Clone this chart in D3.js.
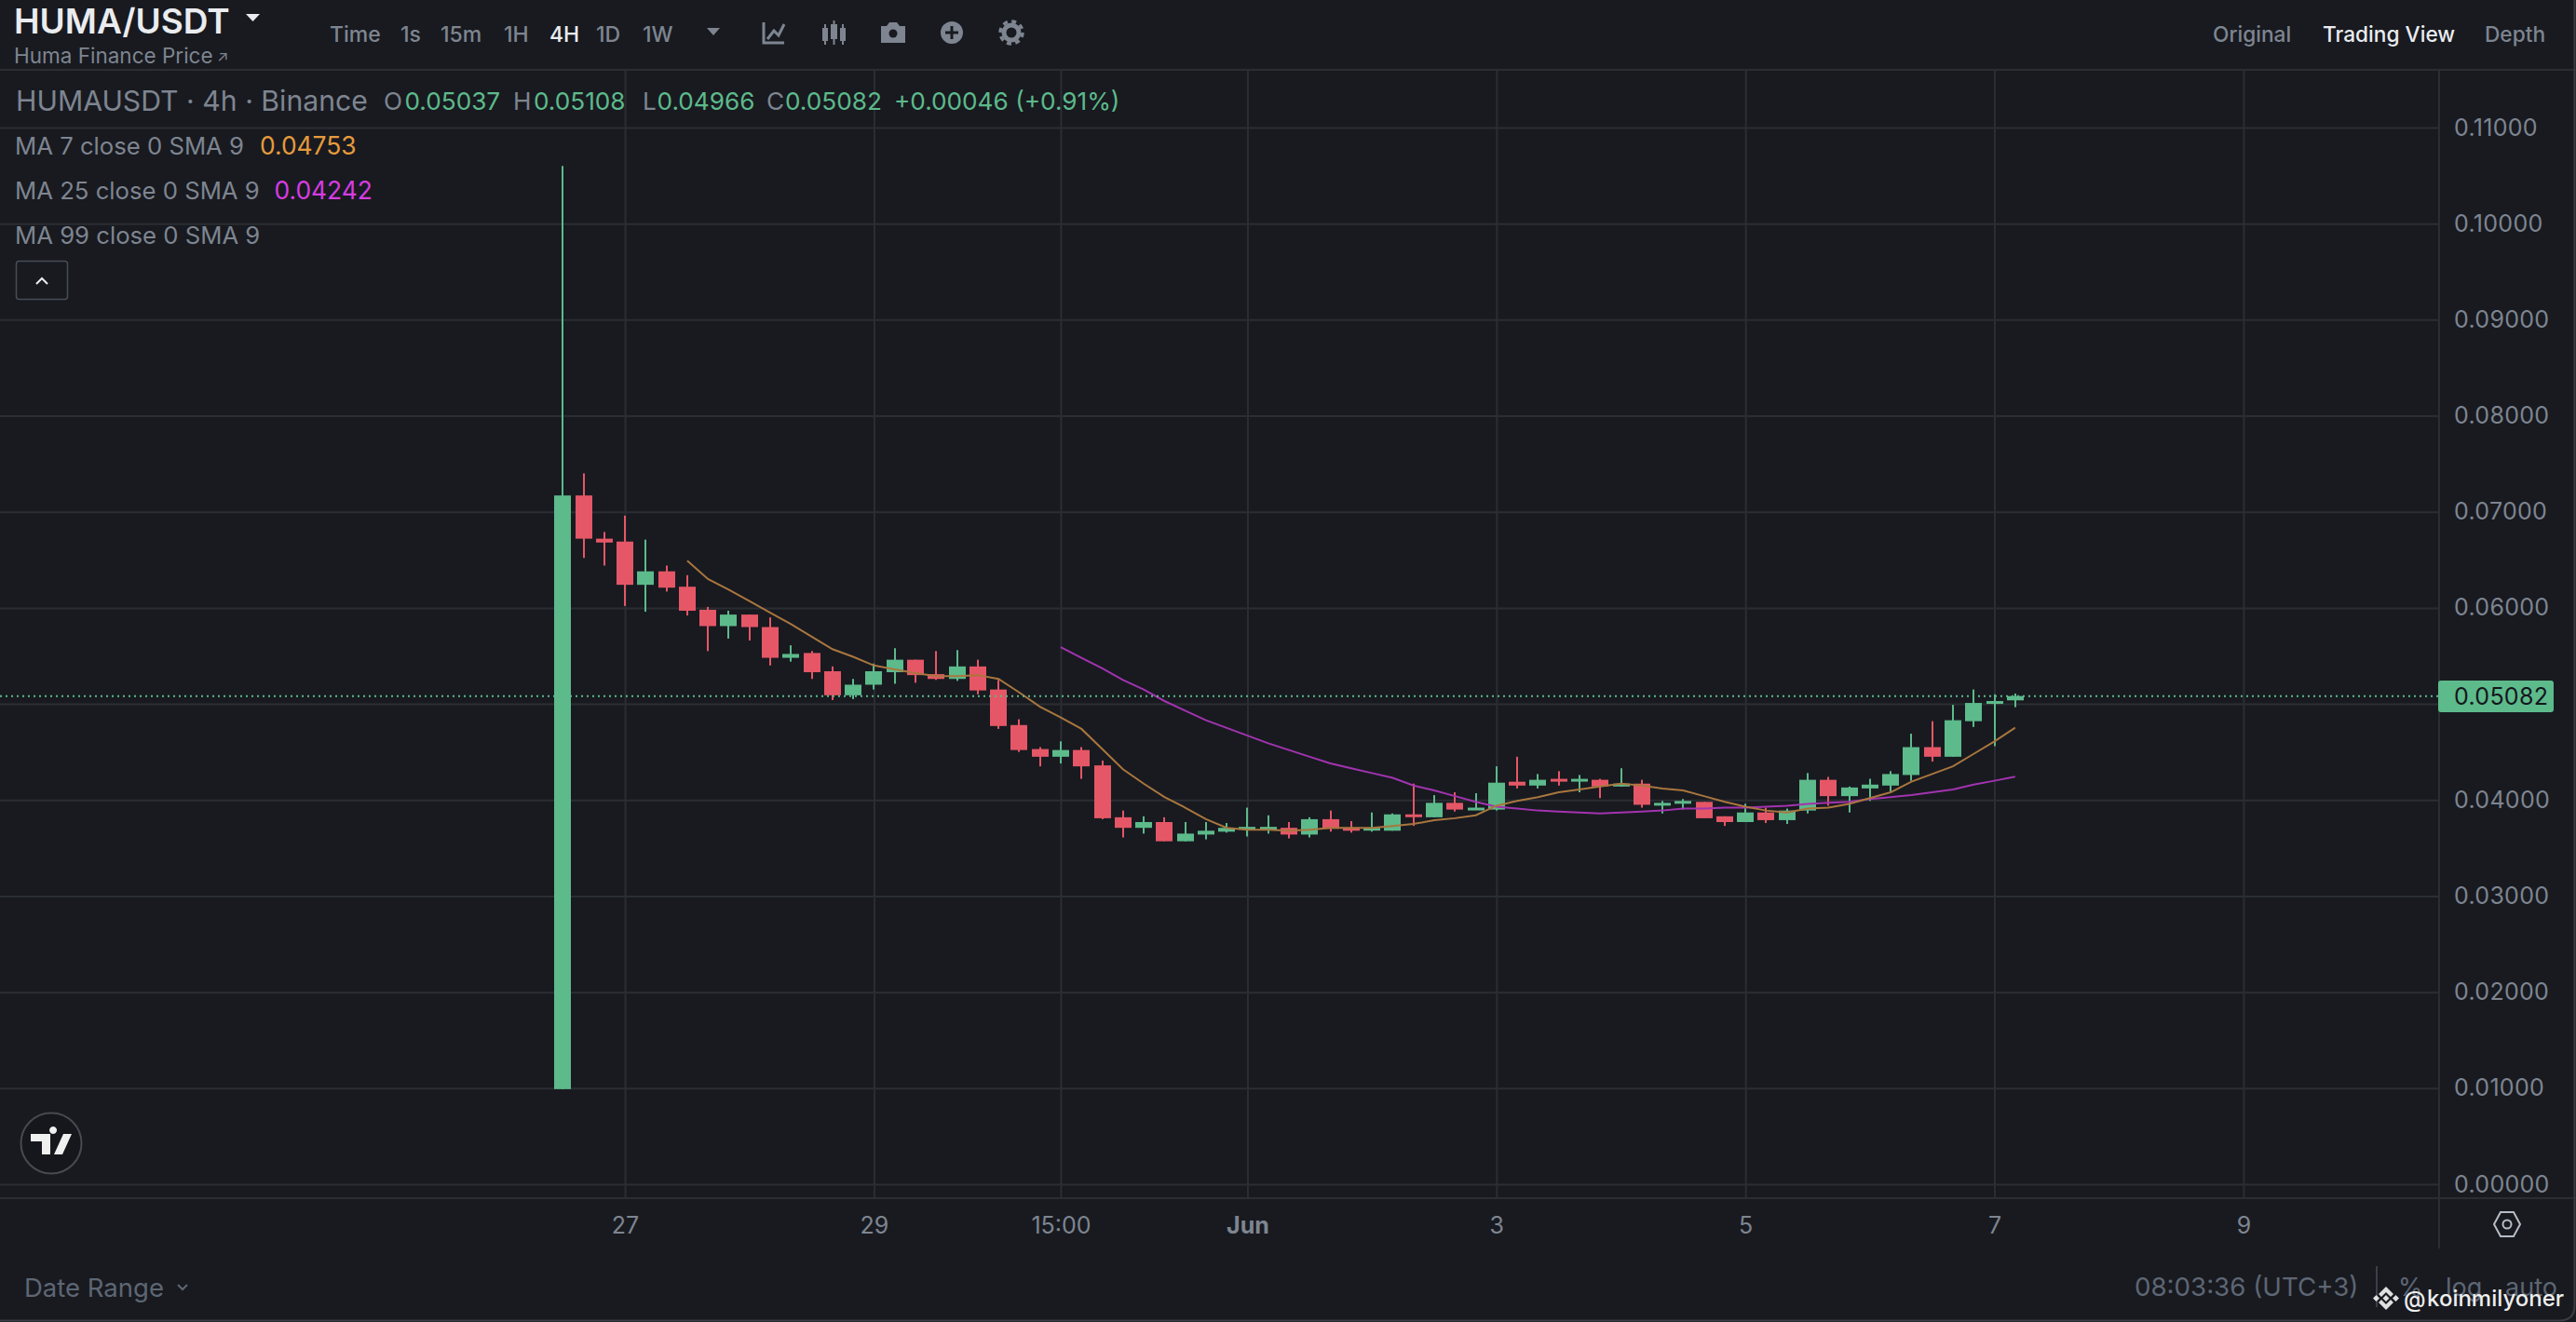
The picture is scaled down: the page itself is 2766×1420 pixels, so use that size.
<!DOCTYPE html>
<html><head><meta charset="utf-8">
<script src="https://cdn.jsdelivr.net/npm/d3@7"></script>
<style>
html,body{margin:0;padding:0;background:#181a20;overflow:hidden}
svg{display:block}
text{font-family:Inter,"Noto Sans",sans-serif}
</style></head><body>
<svg id="c" width="2766" height="1420"></svg>
<script>
const opens=[0.0099,0.0717,0.0672,0.0669,0.0624,0.0638,0.0622,0.0598,0.0581,0.0593,0.0580,0.0548,0.0553,0.0534,0.0509,0.0520,0.0533,0.0546,0.0531,0.0526,0.0539,0.0515,0.0478,0.0453,0.0445,0.0452,0.0436,0.0382,0.0371,0.0377,0.0357,0.0364,0.0367,0.0370,0.0370,0.0371,0.0364,0.0380,0.0371,0.0369,0.0368,0.0385,0.0382,0.0397,0.0390,0.0390,0.0419,0.0415,0.0422,0.0420,0.0421,0.0414,0.0417,0.0395,0.0397,0.0398,0.0383,0.0377,0.0387,0.0379,0.0389,0.0421,0.0404,0.0412,0.0415,0.0426,0.0455,0.0445,0.0482,0.0500,0.05037];
const highs=[0.1060,0.0740,0.0679,0.0696,0.0671,0.0644,0.0634,0.0601,0.0597,0.0593,0.0590,0.0561,0.0555,0.0539,0.0526,0.0542,0.0558,0.0546,0.0555,0.0556,0.0546,0.0525,0.0484,0.0455,0.0461,0.0455,0.0441,0.0389,0.0383,0.0382,0.0377,0.0377,0.0376,0.0392,0.0384,0.0377,0.0382,0.0389,0.0378,0.0387,0.0386,0.0417,0.0405,0.0408,0.0407,0.0435,0.0445,0.0427,0.0430,0.0426,0.0422,0.0433,0.0421,0.0399,0.0401,0.0398,0.0383,0.0396,0.0392,0.0391,0.0428,0.0424,0.0414,0.0422,0.0430,0.0469,0.0482,0.0499,0.0515,0.0510,0.05108];
const lows=[0.0099,0.0652,0.0644,0.0602,0.0596,0.0617,0.0592,0.0555,0.0568,0.0566,0.0540,0.0544,0.0526,0.0504,0.0505,0.0515,0.0521,0.0522,0.0525,0.0524,0.0510,0.0474,0.0450,0.0435,0.0438,0.0422,0.0380,0.0361,0.0365,0.0357,0.0357,0.0359,0.0366,0.0362,0.0365,0.0360,0.0361,0.0367,0.0366,0.0367,0.0368,0.0373,0.0382,0.0388,0.0390,0.0389,0.0412,0.0412,0.0415,0.0408,0.0402,0.0414,0.0392,0.0386,0.0390,0.0381,0.0373,0.0377,0.0376,0.0375,0.0386,0.0394,0.0387,0.0399,0.0409,0.0420,0.0440,0.0445,0.0476,0.0456,0.04966];
const closes=[0.0717,0.0672,0.0668,0.0624,0.0638,0.0621,0.0597,0.0581,0.0593,0.0580,0.0548,0.0552,0.0533,0.0509,0.0520,0.0534,0.0546,0.0530,0.0526,0.0539,0.0514,0.0477,0.0452,0.0445,0.0452,0.0435,0.0381,0.0371,0.0377,0.0357,0.0365,0.0368,0.0371,0.0372,0.0372,0.0364,0.0380,0.0370,0.0368,0.0371,0.0385,0.0383,0.0397,0.0390,0.0392,0.0418,0.0415,0.0421,0.0420,0.0422,0.0414,0.0417,0.0395,0.0397,0.0399,0.0381,0.0377,0.0387,0.0379,0.0389,0.0421,0.0404,0.0413,0.0416,0.0427,0.0455,0.0445,0.0483,0.0501,0.0503,0.05082];
const ma7Start=6;
const ma7=[0.0649,0.0630,0.0619,0.0607,0.0595,0.0583,0.0570,0.0557,0.0549,0.0540,0.0536,0.0532,0.0529,0.0529,0.0530,0.0526,0.0512,0.0497,0.0486,0.0474,0.0453,0.0432,0.0417,0.0403,0.0392,0.0380,0.0371,0.0369,0.0369,0.0368,0.0369,0.0371,0.0371,0.0371,0.0373,0.0375,0.0379,0.0381,0.0384,0.0394,0.0399,0.0403,0.0408,0.0411,0.0414,0.0417,0.0415,0.0412,0.0410,0.0404,0.0398,0.0393,0.0389,0.0387,0.0391,0.0392,0.0396,0.0402,0.0408,0.0419,0.0427,0.0435,0.0448,0.0461,0.04753];
const ma25Start=24;
const ma25=[0.0559,0.0548,0.0537,0.0525,0.0515,0.0503,0.0493,0.0483,0.0475,0.0467,0.0459,0.0452,0.0445,0.0438,0.0433,0.0428,0.0423,0.0415,0.0410,0.0404,0.0398,0.0393,0.0391,0.0389,0.0388,0.0387,0.0386,0.0387,0.0388,0.0389,0.0391,0.0391,0.0392,0.0392,0.0393,0.0394,0.0396,0.0397,0.0398,0.0401,0.0403,0.0405,0.0408,0.0411,0.0416,0.0420,0.04242];
const yTicks=[0,0.01,0.02,0.03,0.04,0.05,0.06,0.07,0.08,0.09,0.10,0.11];
const xTickIdx=[3,15,24,33,45,57,69,81];
const xTickLabels=["27","29","15:00","Jun","3","5","7","9"];
const lastPrice=0.05082;

const BG="#181a20",GRID="#2a2e33",UP="#5dba8b",DOWN="#e55766",MUTED="#7e8590",DIM="#5e6673";
const svg=d3.select("#c");
const paneR=2619,paneT=75,paneB=1287;
const x=d3.scaleLinear().domain([-27.12,90.43]).range([0,paneR]);
const y=d3.scaleLinear().domain([0,0.11]).range([1272,137]);

svg.append("rect").attr("width",2766).attr("height",1420).attr("fill",BG);

// grid
const gy=svg.append("g").attr("transform",`translate(${paneR},0)`)
 .call(d3.axisLeft(y).tickValues(yTicks).tickSize(paneR).tickFormat(""));
const gx=svg.append("g").attr("transform",`translate(0,${paneB})`)
 .call(d3.axisBottom(x).tickValues(xTickIdx).tickSize(paneT-paneB).tickFormat(""));
[gy,gx].forEach(g=>{g.select(".domain").remove();g.selectAll("line").attr("stroke",GRID).attr("stroke-width",2);});

// frame lines
function hl(x1,y1,x2,y2,c=GRID,w=2){svg.append("line").attr("x1",x1).attr("y1",y1).attr("x2",x2).attr("y2",y2).attr("stroke",c).attr("stroke-width",w);}
hl(0,75,2766,75);
hl(0,paneB,2766,paneB);
hl(paneR,75,paneR,1341);

// candles
const candles=opens.map((o,i)=>({i,o,h:highs[i],l:lows[i],c:closes[i]}));
const cg=svg.append("g");
const colr=d=>d.c>=d.o?UP:DOWN;
cg.selectAll("rect.w").data(candles).join("rect").attr("class","w")
 .attr("x",d=>Math.round(x(d.i))-1).attr("width",2)
 .attr("y",d=>y(d.h)).attr("height",d=>y(d.l)-y(d.h)).attr("fill",colr);
cg.selectAll("rect.b").data(candles).join("rect").attr("class","b")
 .attr("x",d=>Math.round(x(d.i))-9).attr("width",18)
 .attr("y",d=>y(Math.max(d.o,d.c))).attr("height",d=>Math.max(3,y(Math.min(d.o,d.c))-y(Math.max(d.o,d.c)))).attr("fill",colr);

// moving averages
const line=d3.line().x(d=>x(d[0])).y(d=>y(d[1]));
svg.append("path").attr("d",line(ma25.map((v,k)=>[ma25Start+k,v]))).attr("fill","none").attr("stroke","#a333b0").attr("stroke-width",2);
svg.append("path").attr("d",line(ma7.map((v,k)=>[ma7Start+k,v]))).attr("fill","none").attr("stroke","#a9763e").attr("stroke-width",2);

// last price
svg.append("line").attr("x1",0).attr("x2",paneR).attr("y1",y(lastPrice)).attr("y2",y(lastPrice))
 .attr("stroke",UP).attr("stroke-width",2).attr("stroke-dasharray","2 4");

// axes
const ay=svg.append("g").attr("transform",`translate(${paneR},0)`)
 .call(d3.axisRight(y).tickValues(yTicks).tickSize(0).tickPadding(16).tickFormat(d3.format(".5f")));
ay.select(".domain").remove();
ay.selectAll("text").attr("fill",MUTED).attr("font-size",25).attr("letter-spacing",0.3).attr("font-family","Inter");
const ax=svg.append("g").attr("transform",`translate(0,${paneB})`)
 .call(d3.axisBottom(x).tickValues(xTickIdx).tickSize(0).tickPadding(0).tickFormat((d,i)=>xTickLabels[i]));
ax.select(".domain").remove();
ax.selectAll("text").attr("fill",MUTED).attr("font-size",25).attr("dy",null).attr("y",38).attr("font-family","Inter")
 .attr("font-weight",d=>d===33?700:400);

function txt(s,px,py,size,fill,weight=400){
  return svg.append("text").attr("x",px).attr("y",py).attr("font-size",size).attr("fill",fill).attr("font-weight",weight).text(s);
}

// price tag
svg.append("rect").attr("x",2618).attr("y",731).attr("width",124).attr("height",34).attr("rx",3).attr("fill",UP);
txt("0.05082",2635,757,25,"#14161b",400).attr("letter-spacing",0.3);

// header
txt("HUMA/USDT",15,36,37,"#eaecef",600);
txt("Huma Finance Price",15,68,22.5,MUTED);
txt("↗",233,66,16,MUTED);
svg.append("path").attr("d","M264 15h15l-7.5 8z").attr("fill","#eaecef");
[["Time",354,MUTED],["1s",430,MUTED],["15m",473,MUTED],["1H",541,MUTED],["4H",590,"#eaecef"],["1D",640,MUTED],["1W",690,MUTED]]
 .forEach(d=>txt(d[0],d[1],45,23,d[2],500));
svg.append("path").attr("d","M759 30h14l-7 8z").attr("fill",MUTED);
// toolbar icons
const ic=svg.append("g").attr("fill",MUTED);
ic.append("path").attr("d","M820 24v22h22M824 42l7-9 5 5 6-12").attr("fill","none").attr("stroke",MUTED).attr("stroke-width",3);
ic.append("rect").attr("x",883).attr("y",30).attr("width",6).attr("height",14);ic.append("rect").attr("x",885).attr("y",26).attr("width",2).attr("height",22);
ic.append("rect").attr("x",892).attr("y",26).attr("width",7).attr("height",16);ic.append("rect").attr("x",894.5).attr("y",22).attr("width",2).attr("height",26);
ic.append("rect").attr("x",902).attr("y",30).attr("width",6).attr("height",14);ic.append("rect").attr("x",904).attr("y",26).attr("width",2).attr("height",22);
ic.append("path").attr("d","M946 28h6l3-4h8l3 4h6v18h-26z");
ic.append("circle").attr("cx",959).attr("cy",36).attr("r",4.5).attr("fill",BG);
ic.append("circle").attr("cx",1022).attr("cy",35).attr("r",12);
ic.append("path").attr("d","M1022 28v14M1015 35h14").attr("stroke",BG).attr("stroke-width",3);
ic.append("circle").attr("cx",1086).attr("cy",35).attr("r",8).attr("fill","none").attr("stroke",MUTED).attr("stroke-width",5);
ic.append("circle").attr("cx",1086).attr("cy",35).attr("r",12).attr("fill","none").attr("stroke",MUTED).attr("stroke-width",3.5).attr("stroke-dasharray","5 4.4");
[["Original",2376,MUTED],["Trading View",2494,"#eaecef"],["Depth",2668,MUTED]].forEach(d=>txt(d[0],d[1],45,22.7,d[2],500));

// legend
txt("HUMAUSDT · 4h · Binance",17,119,30.2,MUTED);
[["O",412,MUTED],["0.05037",434.5,UP],["H",551,MUTED],["0.05108",573,UP],["L",690,MUTED],["0.04966",705.6,UP],["C",823,MUTED],["0.05082",843,UP],["+0.00046 (+0.91%)",960,UP]]
 .forEach(d=>txt(d[0],d[1],118,26.2,d[2]));
txt("MA 7 close 0 SMA 9",16,166,25.7,MUTED);txt("0.04753",279,166,26.4,"#e69a3c");
txt("MA 25 close 0 SMA 9",16,214,25.7,MUTED);txt("0.04242",294.5,214,26.4,"#d63ce0");
txt("MA 99 close 0 SMA 9",16,262,25.7,MUTED);
svg.append("rect").attr("x",17.5).attr("y",280.5).attr("width",55).attr("height",41).attr("rx",3).attr("fill","none").attr("stroke","#474d57").attr("stroke-width",1.5);
svg.append("path").attr("d","M39 305l6-6 6 6").attr("fill","none").attr("stroke","#eaecef").attr("stroke-width",2);

// TV logo
svg.append("circle").attr("cx",55).attr("cy",1228).attr("r",32.5).attr("fill","#15171c").attr("stroke","#474a50").attr("stroke-width",2);
svg.append("path").attr("d","M33 1218h21v22h-9v-14h-12zM57 1218a4 4 0 1 1 .1 0zM68 1218h9l-10 22h-9z").attr("fill","#f0f0f0");

// bottom bar
txt("Date Range",26,1393,27.5,DIM);
svg.append("path").attr("d","M191 1380l5 5 5-5").attr("fill","none").attr("stroke",DIM).attr("stroke-width",2);
txt("08:03:36 (UTC+3)",2292,1392,27.7,DIM);
hl(2552,1360,2552,1404,"#474d57",1.5);
txt("%",2575,1392,27,DIM);txt("log",2626,1392,27,DIM);txt("auto",2690,1392,27,DIM);
svg.append("path").attr("d","M2678 1315l7-13h14l7 13-7 13h-14z").attr("fill","none").attr("stroke","#b7bdc6").attr("stroke-width",2);
svg.append("circle").attr("cx",2692).attr("cy",1315).attr("r",4.5).attr("fill","none").attr("stroke","#b7bdc6").attr("stroke-width",2);

// watermark
svg.append("path").attr("d","M2562 1382l8 8-3 3-5-5-5 5-3-3zM2562 1391l3.5 3.5-3.5 3.5-3.5-3.5zM2551.5 1391l3.5 3.5-3.5 3.5-3.5-3.5zM2572.5 1391l3.5 3.5-3.5 3.5-3.5-3.5zM2562 1407l8-8-3-3-5 5-5-5-3 3z").attr("fill","#e0e0e0");
txt("@",2581,1404,24,"#eeeeee",500);
txt("koinmilyoner",2606,1403,24,"#eeeeee",500);

// outer edge
svg.append("path").attr("d","M0 1418.5H2748q16.5 0 16.5-16.5V0").attr("fill","none").attr("stroke","#3a3d43").attr("stroke-width",2);
</script></body></html>
